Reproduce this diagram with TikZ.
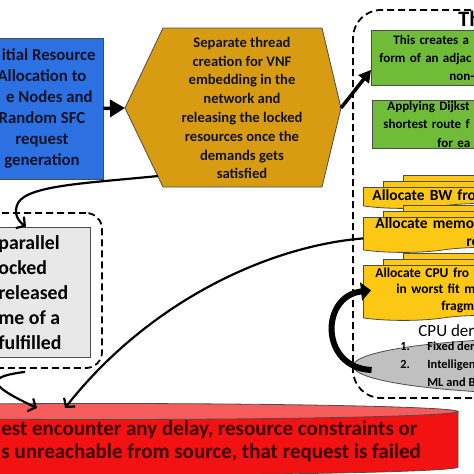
\documentclass[tikz,border=0pt]{standalone}
\usepackage{fontspec}
\setmainfont{Carlito}
\usetikzlibrary{arrows.meta,shapes.geometric,shapes.symbols,shadows,positioning}

\definecolor{initblue}{RGB}{45,112,226}
\definecolor{threadgold}{RGB}{216,156,18}
\definecolor{adjgreen}{RGB}{112,188,56}
\definecolor{allocyellow}{RGB}{252,200,20}
\definecolor{lockgray}{RGB}{232,232,232}
\definecolor{demandgray}{RGB}{192,192,192}
\definecolor{failred}{RGB}{242,18,18}
\definecolor{failtop}{RGB}{246,92,92}
\definecolor{darktext}{RGB}{20,20,40}
\definecolor{failtext}{RGB}{60,0,0}

\begin{document}
\begin{tikzpicture}[x=1pt,y=-1pt,thick,
		main box/.style={draw=black!70,line width=0.8pt,inner sep=0pt},
		green box/.style={main box,fill=adjgreen,anchor=north west,minimum width=150pt,align=left,
			font=\bfseries\fontsize{13}{18.3}\selectfont},
		stack box/.style={main box,fill=allocyellow,tape,tape bend top=none,tape bend bottom=in and out,
			tape bend height=5pt,anchor=north west,minimum width=160pt,align=left,
			double copy shadow={shadow xshift=20pt,shadow yshift=6pt,fill=allocyellow,draw=black!70,line width=0.8pt}},
		dash frame/.style={draw,line width=1.8pt,rounded corners=#1,dash pattern=on 7pt off 4pt},
		link/.style={line width=2.2pt,-{Straight Barb[length=6pt,width=14pt]}}]
		
		\useasboundingbox (0,0) rectangle (474,474);
		\clip (0,0) rectangle (474,474);
		
		% frames
		\node[dash frame=16pt,minimum width=122pt,minimum height=155pt] (lockframe) at (41,290.5) {};
		\node[dash frame=28pt,minimum width=267pt,minimum height=388pt] (pipeline) at (486.5,204) {};
		
		% left side
		\node[main box,fill=initblue,minimum width=122pt,minimum height=141pt,align=center,text=darktext,
			font=\bfseries\fontsize{16.8}{21}\selectfont] (init) at (42,108.5)
			{\phantom{In}itial Resource\\Allocation to\\\phantom{th}e Nodes and\\Random SFC\\request\\generation};
		
		\draw[main box,fill=threadgold] (125,108) coordinate (thread w) -- (163,28) -- (322,28)
			-- (341,108) coordinate (thread e) -- (322,187) -- (163,187) -- cycle;
		\coordinate (thread sw) at (158,176);
		\node[align=center,text=darktext,font=\bfseries\fontsize{14.6}{18.8}\selectfont] (thread) at (242,108)
			{Separate thread\\creation for VNF\\embedding in the\\network and\\releasing the locked\\resources once the\\demands gets\\satisfied};
		
		\node[main box,fill=lockgray,minimum width=120pt,minimum height=130pt] (locked) at (30,292) {};
		\node[anchor=west,align=left,inner sep=0pt,font=\bfseries\fontsize{19.8}{25}\selectfont] (locked text) at (-2,293)
			{parallel\\ocked\\released\\me of a\\fulfilled};
		
		% right side
		\node[green box,minimum height=55pt,text width=134pt] (adj) at (371,30)
			{\hspace*{14pt}This creates a\\form of an adjac\\\hspace*{70pt}non-};
		\node[green box,minimum height=48pt,text width=128pt] (dijkstra) at (372,100)
			{\hspace*{4pt}Applying Dijkst\\shortest route f\\\hspace*{54pt}for ea};
		
		\node[stack box,minimum height=21pt,text width=142pt,font=\bfseries\fontsize{15.5}{18}\selectfont] (bw) at (363,187)
			{Allocate BW fro};
		\node[stack box,minimum height=35pt,text width=136pt,font=\bfseries\fontsize{15.5}{18}\selectfont] (mem) at (363,217)
			{Allocate memo\\\hspace*{91pt}re};
		\node[stack box,minimum height=55pt,text width=136pt,font=\bfseries\fontsize{13.5}{16.5}\selectfont] (cpu) at (363,265)
			{Allocate CPU fro\\\hspace*{21pt}in worst fit m\\\hspace*{66pt}fragm};
		
		\node[anchor=west,inner sep=0pt,font=\fontsize{17}{20}\selectfont] (cpu title) at (418,331) {CPU der};
		\node[ellipse,main box,fill=demandgray,minimum width=414pt,minimum height=56pt] (cpudemand) at (560,366) {};
		\node[anchor=west,align=left,inner sep=0pt,font=\bfseries\fontsize{12.4}{18}\selectfont] (demand list) at (400,364)
			{\makebox[27pt][l]{1.}Fixed der\\\makebox[27pt][l]{2.}Intelligen\\\hspace*{27pt}ML and B};
		
		\node[anchor=west,inner sep=0pt,font=\bfseries\fontsize{22}{24}\selectfont] (title) at (458,19) {Th};
		
		% failure cylinder
		\draw[main box,fill=failred] (458,411.5) -- (458,467)
			arc[start angle=0,end angle=-180,x radius=358pt,y radius=8pt] -- (-258,411.5) -- cycle;
		\draw[main box,fill=failtop] (100,411.5) ellipse[x radius=358pt,y radius=8pt];
		\coordinate (fail in1) at (37,408);
		\coordinate (fail in2) at (65,408);
		\node[anchor=west,align=left,inner sep=0pt,text=failtext,font=\bfseries\fontsize{21}{23.5}\selectfont] (fail) at (1,441.5)
			{est encounter any delay, resource constraints or\\s unreachable from source, that request is failed};
		
		% connectors
		\draw[line width=3.5pt,-{Triangle[length=15pt,width=17pt]}] (init.east) -- (thread w);
		\draw[line width=3.5pt,-{Triangle[length=12pt,width=13pt]}] (thread e) -- ([yshift=-12pt]adj.west);
		\draw[link] (thread sw) .. controls (90,183) and (28,185) .. (18,203)
			.. controls (13,213) and (18,221) .. ([xshift=-4pt]locked.north);
		\draw[link] ([xshift=-16pt,yshift=-3pt]lockframe.south) .. controls (-15,377) and (-12,385) .. (fail in1);
		\draw[link] ([yshift=-6pt]mem.west) .. controls (270,246) and (150,300) .. (fail in2);
		\draw[line width=6pt,-{Triangle[length=10pt,width=18pt]}] ([xshift=19pt,yshift=-4pt]cpudemand.west)
			.. controls (320,368) and (320,296) .. ([xshift=8pt]cpu.west);
\end{tikzpicture}
\end{document}
